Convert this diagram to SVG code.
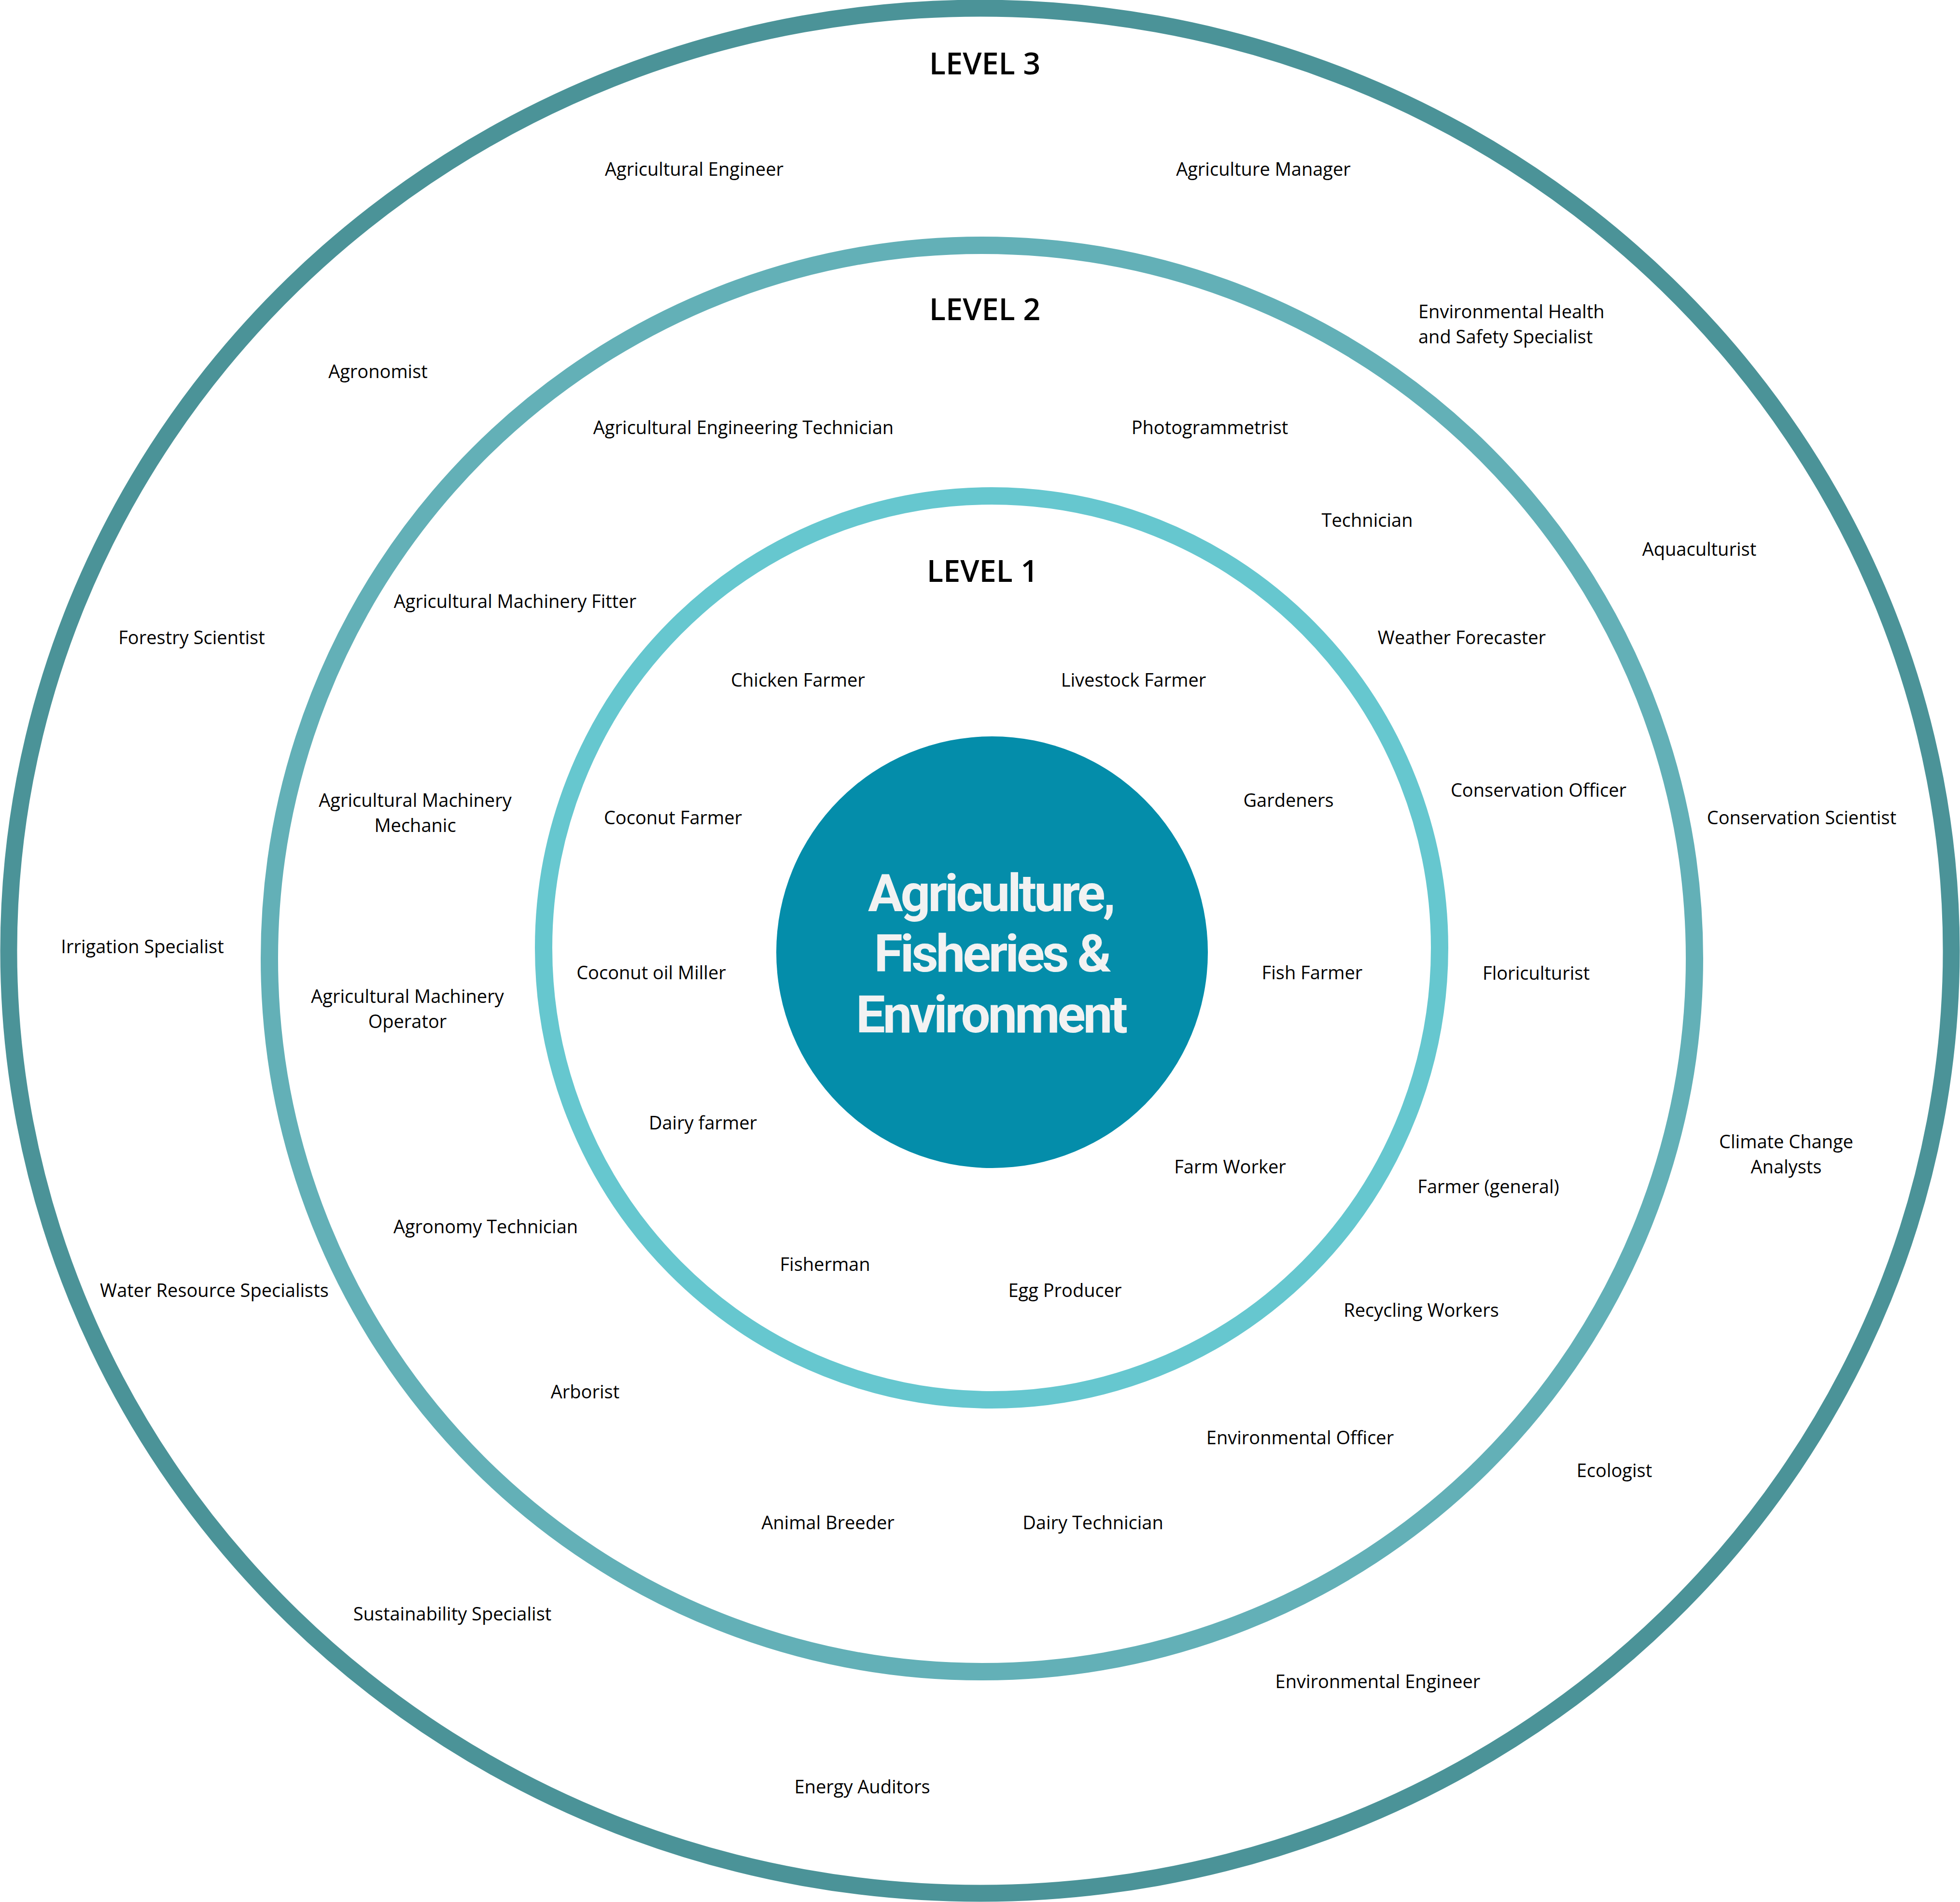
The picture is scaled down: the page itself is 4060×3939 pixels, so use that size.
<svg xmlns="http://www.w3.org/2000/svg" width="4060" height="3939" viewBox="0 0 4060 3939">
<style>
.ring{fill:none;}
.r3{stroke:#4b9398;stroke-width:35;}
.r2{stroke:#63b0b7;stroke-width:36;}
.r1{stroke:#66c7cf;stroke-width:36;}
.lbl{font-family:"Open Sans","Liberation Sans",sans-serif;font-size:38px;fill:#000;text-anchor:middle;}
.lvl{font-family:"Open Sans","Liberation Sans",sans-serif;font-weight:600;font-size:63px;fill:#000;text-anchor:middle;}
.title{font-family:Roboto,"Open Sans","Liberation Sans",sans-serif;font-weight:700;font-size:108px;letter-spacing:-5px;fill:#f2f2f2;text-anchor:middle;}
</style>
<rect width="4060" height="3939" fill="#fff"/>
<g id="level3">
<ellipse class="ring r3" cx="2030" cy="1969" rx="2012" ry="1952"/>
<text class="lvl" x="2040" y="154">LEVEL 3</text>
</g>
<g id="level2">
<ellipse class="ring r2" cx="2034" cy="1985" rx="1476" ry="1477"/>
<text class="lvl" x="2040" y="663">LEVEL 2</text>
</g>
<g id="level1">
<ellipse class="ring r1" cx="2054" cy="1963" rx="928" ry="936"/>
<text class="lvl" x="2035" y="1205">LEVEL 1</text>
</g>
<g id="center">
<circle cx="2055" cy="1972" r="447" fill="#048daa"/>
<text class="title" x="2052" y="1887">Agriculture,</text>
<text class="title" x="2054" y="2012">Fisheries &amp;</text>
<text class="title" x="2052" y="2138">Environment</text>
</g>
<g id="level3-labels">
<text class="lbl" x="1438" y="364">Agricultural Engineer</text>
<text class="lbl" x="2617" y="364">Agriculture Manager</text>
<text class="lbl" x="2938" y="659" style="text-anchor:start">Environmental Health<tspan x="2938" dy="52">and Safety Specialist</tspan></text>
<text class="lbl" x="783" y="783">Agronomist</text>
<text class="lbl" x="3520" y="1151">Aquaculturist</text>
<text class="lbl" x="397" y="1334">Forestry Scientist</text>
<text class="lbl" x="3732" y="1707">Conservation Scientist</text>
<text class="lbl" x="295" y="1974">Irrigation Specialist</text>
<text class="lbl" x="3700" y="2378">Climate Change<tspan x="3700" dy="52">Analysts</tspan></text>
<text class="lbl" x="444" y="2686">Water Resource Specialists</text>
<text class="lbl" x="3344" y="3059">Ecologist</text>
<text class="lbl" x="937" y="3356">Sustainability Specialist</text>
<text class="lbl" x="2854" y="3496">Environmental Engineer</text>
<text class="lbl" x="1786" y="3714">Energy Auditors</text>
</g>
<g id="level2-labels">
<text class="lbl" x="1540" y="899">Agricultural Engineering Technician</text>
<text class="lbl" x="2506" y="899">Photogrammetrist</text>
<text class="lbl" x="2832" y="1091">Technician</text>
<text class="lbl" x="1067" y="1259">Agricultural Machinery Fitter</text>
<text class="lbl" x="3028" y="1334">Weather Forecaster</text>
<text class="lbl" x="860" y="1671">Agricultural Machinery<tspan x="860" dy="52">Mechanic</tspan></text>
<text class="lbl" x="3187" y="1650">Conservation Officer</text>
<text class="lbl" x="3182" y="2029">Floriculturist</text>
<text class="lbl" x="844" y="2077">Agricultural Machinery<tspan x="844" dy="52">Operator</tspan></text>
<text class="lbl" x="3083" y="2471">Farmer (general)</text>
<text class="lbl" x="1006" y="2554">Agronomy Technician</text>
<text class="lbl" x="2944" y="2727">Recycling Workers</text>
<text class="lbl" x="1212" y="2896">Arborist</text>
<text class="lbl" x="2693" y="2991">Environmental Officer</text>
<text class="lbl" x="1715" y="3167">Animal Breeder</text>
<text class="lbl" x="2264" y="3167">Dairy Technician</text>
</g>
<g id="level1-labels">
<text class="lbl" x="1653" y="1422">Chicken Farmer</text>
<text class="lbl" x="2348" y="1422">Livestock Farmer</text>
<text class="lbl" x="1394" y="1707">Coconut Farmer</text>
<text class="lbl" x="2669" y="1671">Gardeners</text>
<text class="lbl" x="1349" y="2028">Coconut oil Miller</text>
<text class="lbl" x="2718" y="2028">Fish Farmer</text>
<text class="lbl" x="1456" y="2339">Dairy farmer</text>
<text class="lbl" x="2548" y="2430">Farm Worker</text>
<text class="lbl" x="1709" y="2632">Fisherman</text>
<text class="lbl" x="2206" y="2686">Egg Producer</text>
</g>
</svg>
